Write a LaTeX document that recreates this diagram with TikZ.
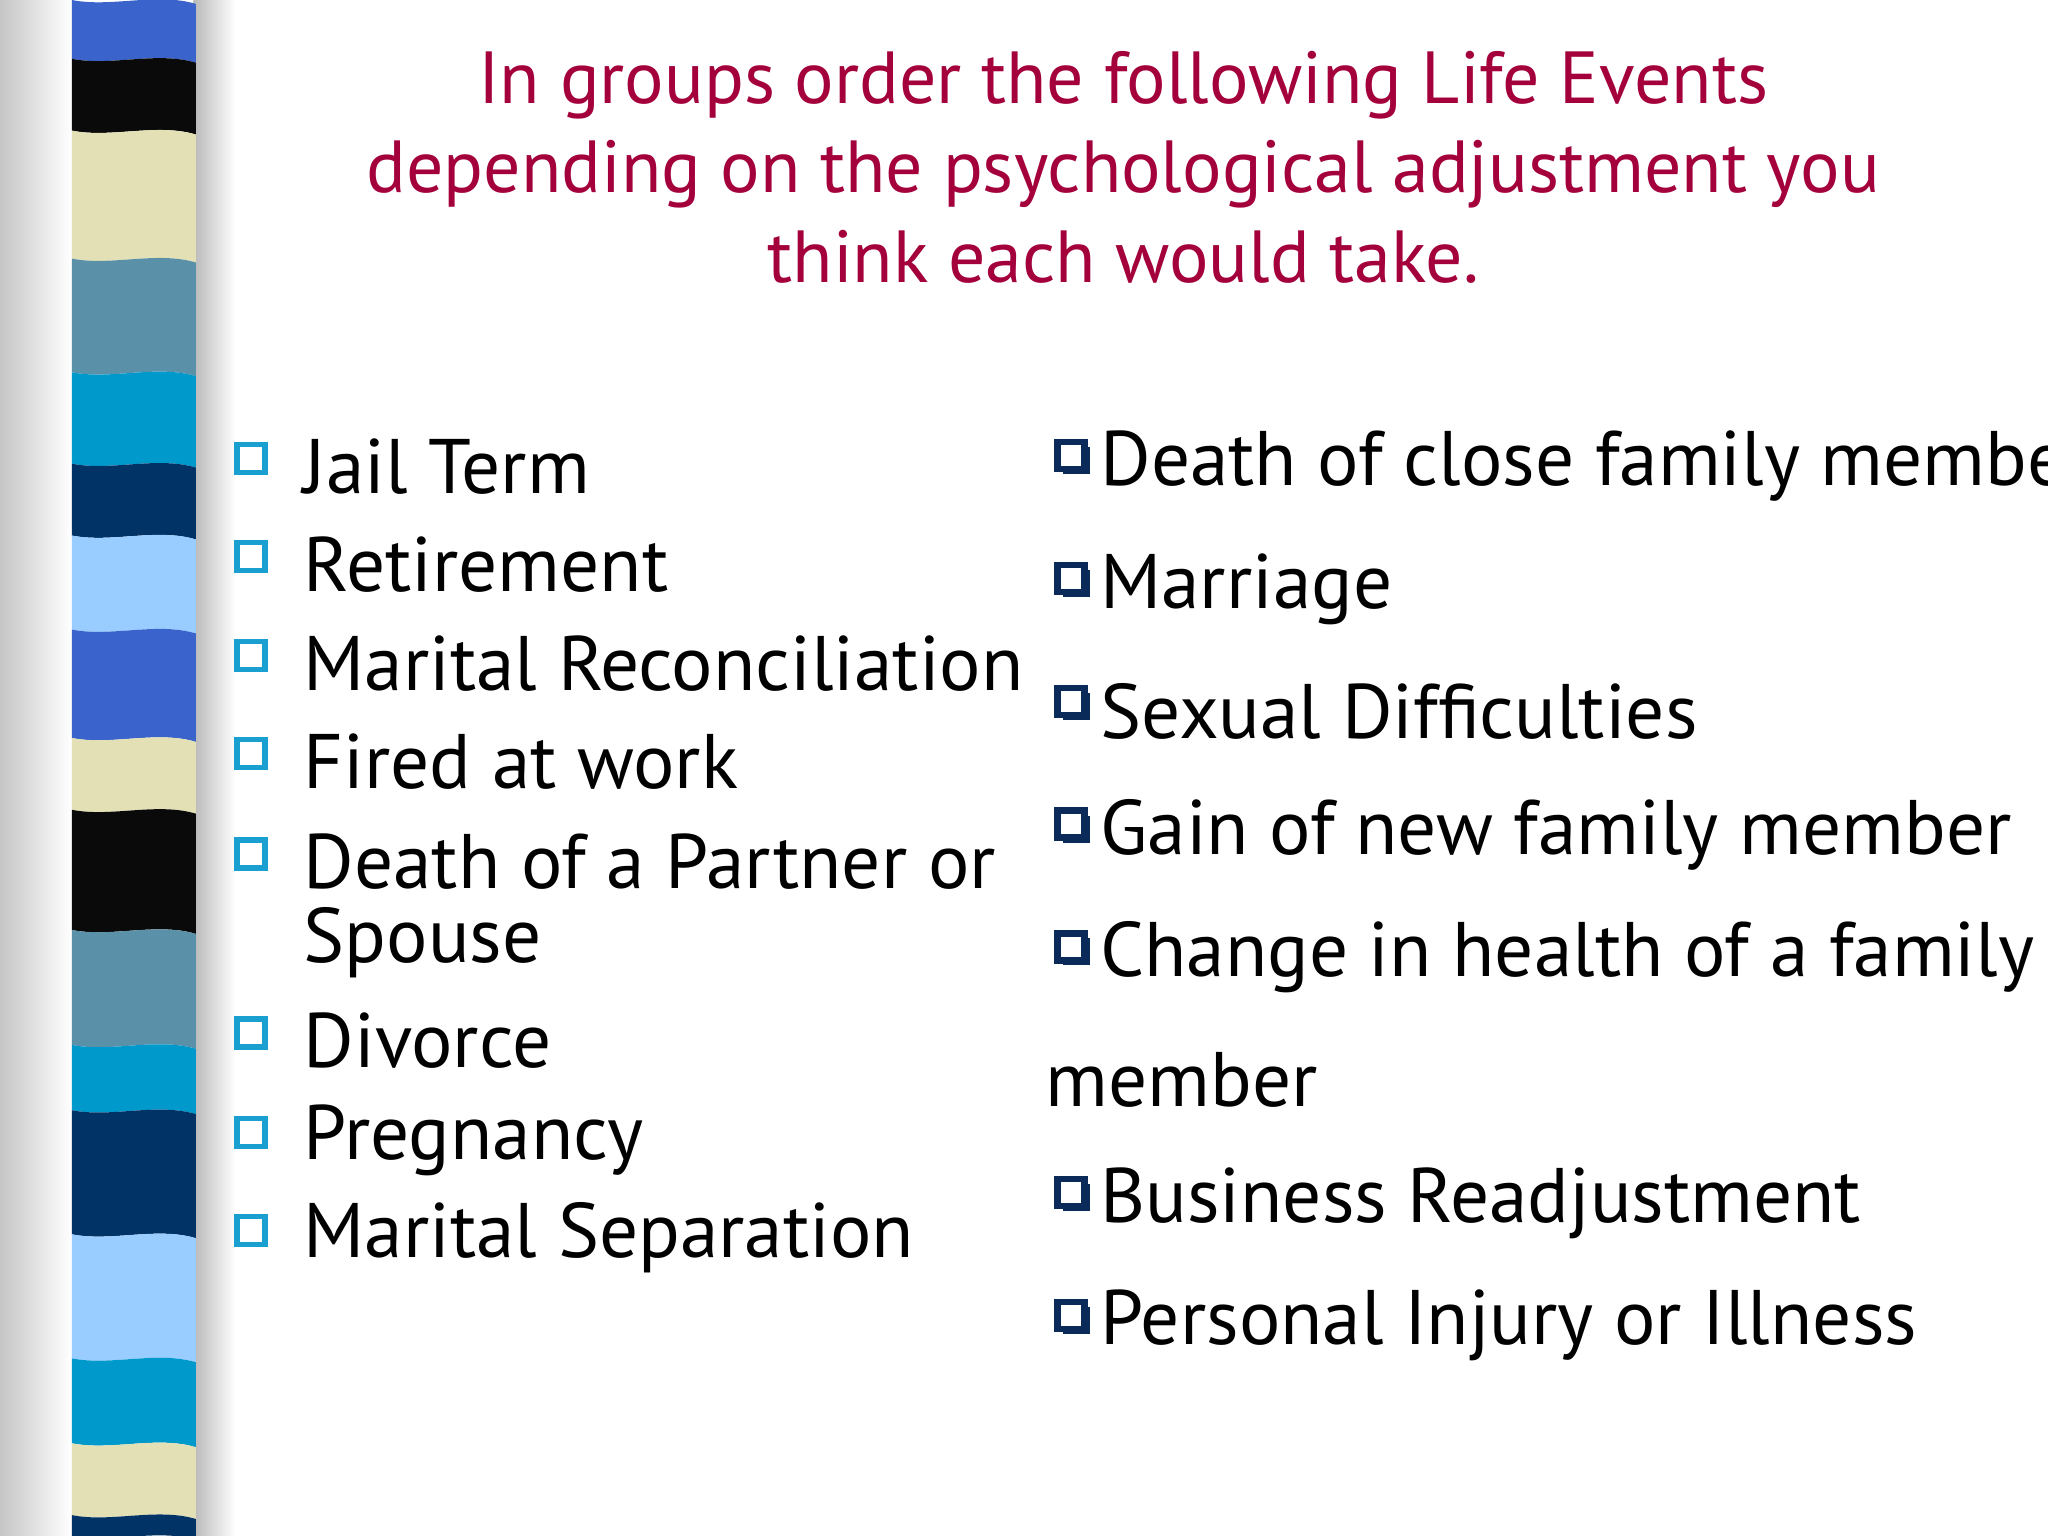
\documentclass[tikz,border=0pt]{standalone}
\usepackage{fontspec}
\setmainfont{PT Sans}
\usetikzlibrary{shadows}
\definecolor{ttl}{HTML}{A3003C}
\definecolor{sb}{HTML}{3A64CC}
\definecolor{sk}{HTML}{0A0A0A}
\definecolor{se}{HTML}{E2E0B4}
\definecolor{ss}{HTML}{5A90A8}
\definecolor{sc}{HTML}{0099CC}
\definecolor{sn}{HTML}{023366}
\definecolor{sl}{HTML}{99CCFF}
\definecolor{bx}{HTML}{1AA0D0}
\definecolor{bn}{HTML}{0A2A5A}
\begin{document}
\begin{tikzpicture}[x=0.013061cm,y=-0.013061cm,
  item/.style={anchor=west,font=\fontsize{22}{26}\selectfont,inner sep=0pt},
  lbox/.style={draw=bx,line width=1.6pt,minimum size=0.28cm,inner sep=0pt},
  rbox/.style={draw=bn,line width=1.8pt,minimum size=0.27cm,inner sep=0pt,fill=white,
     drop shadow={shadow xshift=0.05cm,shadow yshift=-0.05cm,fill=bn,opacity=1}}]
\useasboundingbox (0,0) rectangle (1568,1176);
\fill[white] (0,0) rectangle (1568,1176);
\shade[left color=gray!45,right color=white] (0,0) rectangle (55,1176);
\shade[left color=gray!55,right color=white] (148,0) rectangle (180,1176);
\foreach \a/\b/\c in {0/45/sb,45/100/sk,100/198/se,198/285/ss,285/355/sc,355/410/sn,410/482/sl,482/565/sb,565/620/se,620/712/sk,712/800/ss,800/850/sc,850/945/sn,945/1040/sl,1040/1105/sc,1105/1160/se,1160/1176/sn}{
 \fill[\c] (55,\a) .. controls (85,\a+6) and (120,\a-6) .. (150,\a+3) -- (150,\b+3) .. controls (120,\b-6) and (85,\b+6) .. (55,\b) -- cycle;}
\node[font=\fontsize{21}{25.5}\selectfont,text=ttl,align=center] (title) at (860,128)
 {In groups order the following Life Events\\depending on the psychological adjustment you\\think each would take.};
\foreach \n/\y/\t in {1/357/Jail Term,2/432/Retirement,3/508/Marital Reconciliation,4/583/Fired at work,5/660/Death of a Partner or,6/797/Divorce,7/873/Pregnancy,8/948/Marital Separation}{
 \node[lbox] (lb\n) at (192,\y-6) {};
 \node[item] (lt\n) at (232,\y) {\t};}
\node[item] (lt5b) at (232,722) {Spouse};
\foreach \n/\y/\t in {1/357/Death of close family member,2/451/Marriage,3/545/Sexual Difficulties,4/639/Gain of new family member,5/733/Change in health of a family,6/921/Business Readjustment,7/1015/Personal Injury or Illness}{
 \node[rbox] (rb\n) at (820,\y-8) {};
 \node[item] (rt\n) at (842,\y) {\t};}
\node[item] (rt5b) at (800,827) {member};
\end{tikzpicture}
\end{document}
